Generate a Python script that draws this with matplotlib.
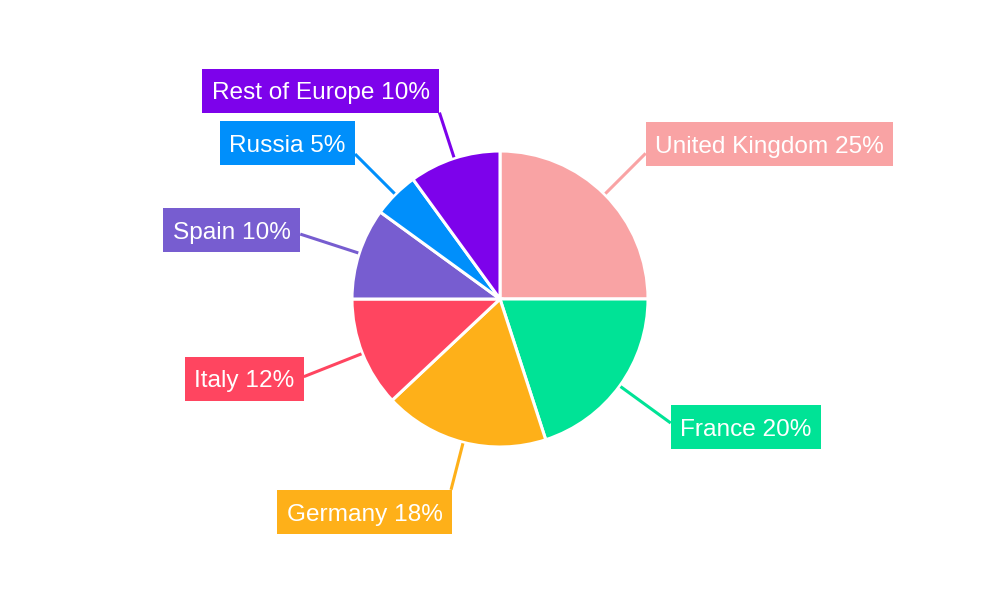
import numpy as np
import matplotlib.pyplot as plt
from matplotlib.patches import Rectangle

countries = ["United Kingdom", "France", "Germany", "Italy", "Spain", "Russia", "Rest of Europe"]
shares = [25, 20, 18, 12, 10, 5, 10]
colors = ["#F9A3A4", "#00E396", "#FEB019", "#FF4560", "#775DD0", "#008FFB", "#7D02EB"]

# layout: connector length (px), which box edge meets the line end, and the box shift along that edge (px, screen down/left)
line_r = [206, 211, 197, 211, 210, 205, 196]
edges = ["left", "left", "top", "right", "right", "right", "bottom"]
shifts = [-9, 4, -1, 2, -4, -11, 0]

plt.rcParams['font.family'] = ['Liberation Sans', 'DejaVu Sans']

W, H = 1000, 600
fig = plt.figure(figsize=(10, 6), dpi=100)
ax = fig.add_axes([0, 0, 1, 1])

cx, cy, R = 500, H - 299, 148
wedges, _ = ax.pie(shares, colors=colors, startangle=90, counterclock=False,
                   center=(cx, cy), radius=R, frame=True,
                   wedgeprops=dict(edgecolor='white', linewidth=2.2))
ax.set_xlim(0, W)
ax.set_ylim(0, H)
ax.set_aspect('equal')
ax.axis('off')

renderer = fig.canvas.get_renderer()
box_h = 44
pad_x = 9.5
fs = 17.6

for w, name, val, col, r_end, edge, sh in zip(wedges, countries, shares, colors, line_r, edges, shifts):
    ang = np.deg2rad((w.theta1 + w.theta2) / 2)
    ux, uy = np.cos(ang), np.sin(ang)
    x0, y0 = cx + (R + 1) * ux, cy + (R + 1) * uy
    x1, y1 = cx + r_end * ux, cy + r_end * uy
    ax.plot([x0, x1], [y0, y1], color=col, lw=2.2, solid_capstyle='butt', zorder=2)

    t = ax.text(0, 0, f"{name} {val}%", color='white', fontsize=fs,
                ha='center', va='baseline', zorder=4)
    bw = t.get_window_extent(renderer).width + 2 * pad_x
    # box centre (data coords, y up)
    if edge == "left":
        bx, by = x1 + bw / 2, y1 - sh
    elif edge == "right":
        bx, by = x1 - bw / 2, y1 - sh
    elif edge == "top":
        bx, by = x1 - sh - bw / 2, y1 - box_h / 2
    else:
        bx, by = x1 - sh - bw / 2, y1 + box_h / 2
    ax.add_patch(Rectangle((bx - bw / 2, by - box_h / 2), bw, box_h, fc=col, ec='none', zorder=3))
    cap = 0.716 * fs * 100 / 72
    t.set_position((bx, by - cap / 2))

fig.savefig("out.png", dpi=100)
